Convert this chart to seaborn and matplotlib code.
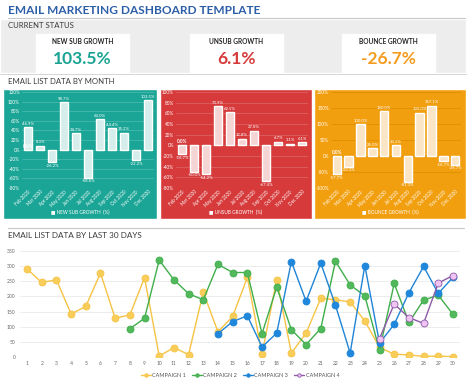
import seaborn as sns
import matplotlib.pyplot as plt
import pandas as pd
import numpy as np
from matplotlib.patches import Rectangle
from matplotlib.ticker import FuncFormatter
from matplotlib.lines import Line2D

months = ['Feb 2020', 'Mar 2020', 'Apr 2020', 'May 2020', 'Jun 2020', 'Jul 2020',
          'Aug 2020', 'Sep 2020', 'Oct 2020', 'Nov 2020', 'Dec 2020']
new_sub_growth = [46.9, 8.3, -26.2, 98.7, 34.7, -58.6, 63.0, 44.4, 35.2, -22.2, 103.5]
unsub_growth = [-16.7, -50.0, -54.2, 73.9, 62.5, 12.8, 27.8, -67.4, 6.7, 3.1, 6.1]
bounce_growth = [-57.7, -33.3, 100.0, 25.0, 140.0, 33.3, -81.3, 135.0, 157.1, -16.7, -26.7]

status_labels = ['NEW SUB GROWTH', 'UNSUB GROWTH', 'BOUNCE GROWTH']
status_values = ['103.5%', '6.1%', '-26.7%']

days = list(range(1, 31))
campaign_1 = [291, 246, 255, 142, 167, 277, 128, 139, 262, 3, 31, 8, 214, 83, 134,
              263, 10, 255, 13, 79, 194, 189, 182, 119, 32, 9, 7, 2, 3, 1]
campaign_2_days = list(range(8, 31))
campaign_2 = [93, 128, 320, 255, 209, 189, 306, 279, 279, 77, 231, 90, 41, 94, 316,
              238, 202, 22, 243, 114, 188, 204, 141]
campaign_3_days = list(range(14, 31))
campaign_3 = [77, 117, 136, 33, 79, 315, 184, 310, 171, 13, 302, 46, 108, 212, 299, 210, 263]
campaign_4_days = list(range(25, 31))
campaign_4 = [61, 175, 130, 111, 244, 269]

sns.set_style("white")
plt.rcParams['font.family'] = ['Lato', 'DejaVu Sans']

W, H = 474, 382
fig = plt.figure(figsize=(W / 100, H / 100), dpi=100)
fig.patch.set_facecolor('white')


def fx(x):
    return x / W


def fy(y):
    return 1 - y / H


def rect(x0, y0, x1, y1, color, z=-2, **kw):
    fig.add_artist(Rectangle((fx(x0), fy(y1)), fx(x1 - x0), (y1 - y0) / H,
                             transform=fig.transFigure, facecolor=color,
                             zorder=z, **kw))


# ---- header ----
fig.text(fx(8), fy(10), 'EMAIL MARKETING DASHBOARD TEMPLATE', color='#2d5ea8',
         fontsize=8.6, fontweight='bold', va='center', ha='left')
fig.add_artist(Line2D([fx(8), fx(465)], [fy(18), fy(18)], color='#c8c8c8', lw=0.8))

# current status band
rect(0, 19, 466, 73, '#ededed')
fig.add_artist(Line2D([fx(0), fx(466)], [fy(73.5), fy(73.5)], color='#cfcfcf', lw=0.6))
fig.text(fx(8), fy(26), 'CURRENT STATUS', color='#3a3a3a', fontsize=5.6, va='center')

status_colors = ['#1aa392', '#d63a3b', '#f39c1b']
boxes = [(36, 129), (190, 283), (342, 435)]
for (x0, x1), lab, val, c in zip(boxes, status_labels, status_values, status_colors):
    rect(x0, 34, x1, 76, 'white', z=-1)
    xc = (x0 + x1) / 2
    fig.text(fx(xc), fy(42), lab, fontsize=4.7, fontweight='bold', color='#222222',
             ha='center', va='center')
    fig.text(fx(xc), fy(59), val, fontsize=12.5, fontweight='bold', color=c,
             ha='center', va='center')

fig.text(fx(8), fy(82), 'EMAIL LIST DATA BY MONTH', color='#3a3a3a', fontsize=5.6,
         va='center')

# ---- monthly bar panels ----
panels = [
    dict(vals=new_sub_growth, bg='#1ba596', bar='#d6eeeb', grid='#4fbcb0',
         panel=(3, 157), ax=(22, 154), ylim=(-80, 120), step=20,
         legend='NEW SUB GROWTH  (%)'),
    dict(vals=unsub_growth, bg='#d63a3b', bar='#f4d5d4', grid='#e0676a',
         panel=(160, 312), ax=(176, 308), ylim=(-80, 100), step=20,
         legend='UNSUB GROWTH  (%)'),
    dict(vals=bounce_growth, bg='#f29f0f', bar='#fae6c6', grid='#d98b00',
         panel=(314, 466), ax=(331, 461), ylim=(-100, 200), step=50,
         legend='BOUNCE GROWTH  (%)'),
]

for p in panels:
    rect(p['panel'][0], 89, p['panel'][1], 219, p['bg'])
    a0, a1 = p['ax']
    ax = fig.add_axes([fx(a0), fy(188), fx(a1 - a0), 96 / H])
    ax.set_facecolor('none')
    df = pd.DataFrame({'month': months, 'growth': p['vals']})
    sns.barplot(data=df, x='month', y='growth', color=p['bar'], width=0.72,
                saturation=1, ax=ax, zorder=3)
    ax.set_ylim(*p['ylim'])
    ax.set_yticks(np.arange(p['ylim'][0], p['ylim'][1] + 1, p['step']))
    ax.yaxis.set_major_formatter(FuncFormatter(lambda v, _: f'{v:.0f}%'))
    ax.grid(axis='y', color=p['grid'], lw=0.5, zorder=0)
    ax.set_axisbelow(True)
    for s in ax.spines.values():
        s.set_visible(False)
    ax.tick_params(length=0, labelsize=3.3, labelcolor='white', pad=1.5)
    ax.tick_params(axis='x', labelrotation=45, pad=1)
    for t in ax.get_xticklabels():
        t.set_ha('right')
        t.set_rotation_mode('anchor')
    ax.set_xlabel('')
    ax.set_ylabel('')
    ax.bar_label(ax.containers[0], labels=[f'{v:.1f}%' for v in p['vals']],
                 fontsize=3.1, color='white', padding=1)
    ax.text(0, 2, '0.0%', fontsize=3.3, color='white', fontweight='bold',
            ha='center', va='bottom', zorder=5)
    xc = (p['panel'][0] + p['panel'][1]) / 2
    fig.text(fx(xc), fy(212), '\u25a0 ' + p['legend'], fontsize=3.4, color='white',
             ha='center', va='center')

# ---- last 30 days line chart ----
fig.add_artist(Line2D([fx(8), fx(464)], [fy(228), fy(228)], color='#c8c8c8', lw=0.8))
fig.text(fx(8), fy(236), 'EMAIL LIST DATA BY LAST 30 DAYS', color='#3a3a3a',
         fontsize=5.9, va='center')

lax = fig.add_axes([fx(19.7), fy(357), fx(440.6), 106 / H])
series = [
    ('CAMPAIGN 1', days, campaign_1, '#f6c344', '#f8cd5a'),
    ('CAMPAIGN 2', campaign_2_days, campaign_2, '#3fae4b', '#52b85c'),
    ('CAMPAIGN 3', campaign_3_days, campaign_3, '#1f84d6', '#1f88dc'),
    ('CAMPAIGN 4', campaign_4_days, campaign_4, '#8b5aa8', '#efc4f2'),
]
for name, d, v, lc, mc in series:
    sns.lineplot(x=d, y=v, ax=lax, color=lc, lw=1.0, marker='o', markersize=5,
                 markerfacecolor=mc, markeredgecolor=lc, markeredgewidth=0.6,
                 label=name)
lax.set_xlim(0.5, 30.5)
lax.set_ylim(0, 350)
lax.set_xticks(days)
lax.set_yticks(range(0, 351, 50))
lax.grid(axis='y', color='#e4e4e4', lw=0.5)
lax.set_axisbelow(True)
for s in lax.spines.values():
    s.set_visible(False)
lax.tick_params(length=0, labelsize=3.6, labelcolor='#666666', pad=3)
leg = lax.legend(loc='upper center', bbox_to_anchor=(0.5, -0.1), ncol=4,
                 frameon=False, fontsize=4.0, handlelength=1.8, columnspacing=1.0,
                 handletextpad=0.3, markerscale=0.5)
for t in leg.get_texts():
    t.set_color('#555555')

fig.savefig('out.png', dpi=100, facecolor='white')
